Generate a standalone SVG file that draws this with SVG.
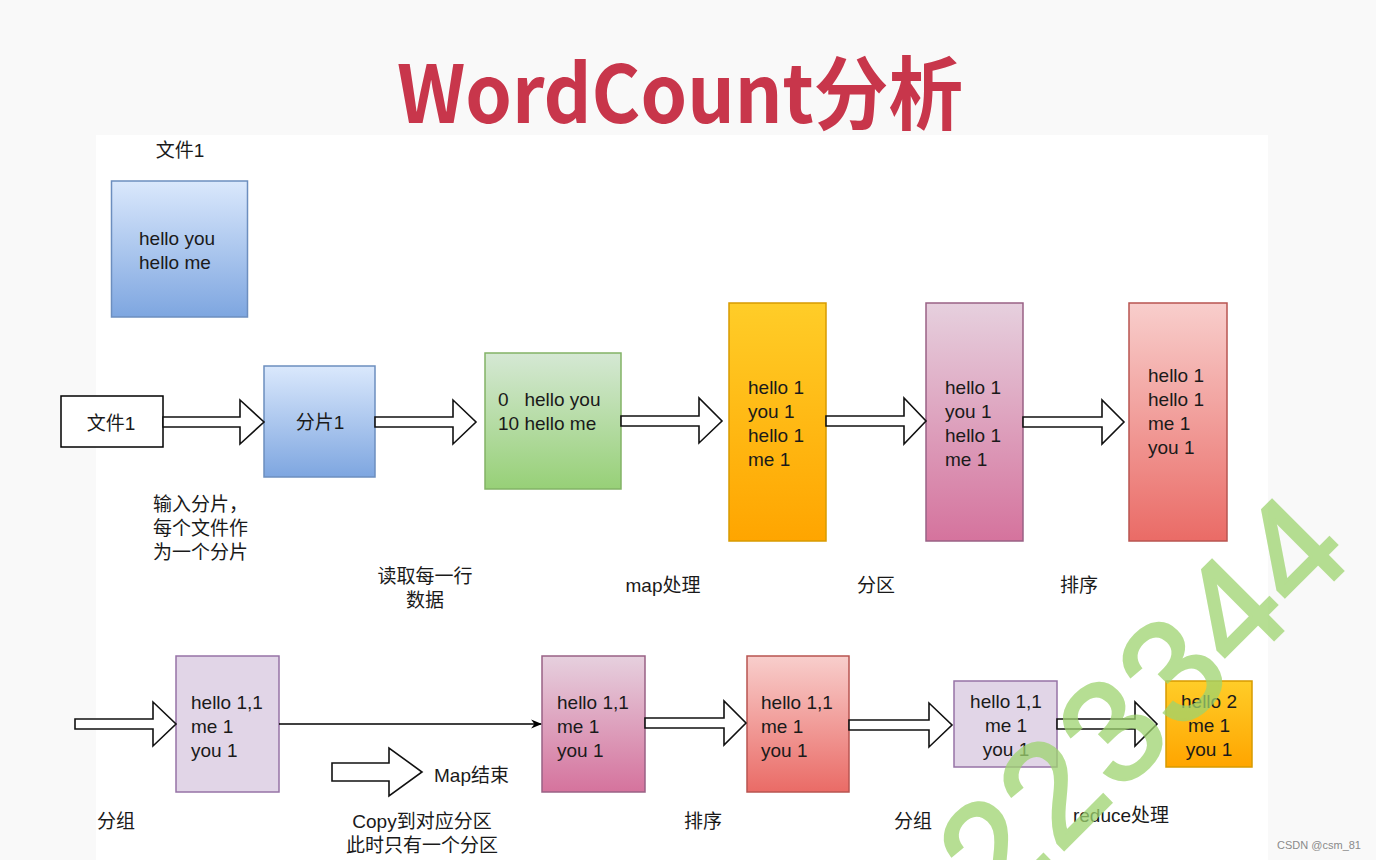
<svg xmlns="http://www.w3.org/2000/svg" width="1376" height="860" viewBox="0 0 1376 860">
<defs>
<linearGradient id="gBlue" x1="0" y1="0" x2="0" y2="1"><stop offset="0" stop-color="#dae8fc"/><stop offset="1" stop-color="#7ea6e0"/></linearGradient>
<linearGradient id="gGreen" x1="0" y1="0" x2="0" y2="1"><stop offset="0" stop-color="#d5e8d4"/><stop offset="1" stop-color="#97d077"/></linearGradient>
<linearGradient id="gOrange" x1="0" y1="0" x2="0" y2="1"><stop offset="0" stop-color="#ffcd28"/><stop offset="1" stop-color="#ffa500"/></linearGradient>
<linearGradient id="gPink" x1="0" y1="0" x2="0" y2="1"><stop offset="0" stop-color="#e6d0de"/><stop offset="1" stop-color="#d5739d"/></linearGradient>
<linearGradient id="gRed" x1="0" y1="0" x2="0" y2="1"><stop offset="0" stop-color="#f8cecc"/><stop offset="1" stop-color="#ea6b66"/></linearGradient>
<marker id="arr" viewBox="0 0 10 10" refX="9" refY="5" markerWidth="11" markerHeight="11" orient="auto" markerUnits="userSpaceOnUse"><path d="M0,1 L10,5 L0,9 L3,5 Z" fill="#000"/></marker>
<style>
.t{font-family:"Liberation Sans","Noto Sans CJK SC",sans-serif;font-size:19px;fill:#1a1a1a}
.blue{fill:url(#gBlue);stroke:#6c8ebf;stroke-width:1.5}
.green{fill:url(#gGreen);stroke:#82b366;stroke-width:1.5}
.orange{fill:url(#gOrange);stroke:#d79b00;stroke-width:1.5}
.pink{fill:url(#gPink);stroke:#996185;stroke-width:1.5}
.red{fill:url(#gRed);stroke:#b85450;stroke-width:1.5}
.lav{fill:#e1d5e7;stroke:#9673a6;stroke-width:1.5}
.plain{fill:#fff;stroke:#000;stroke-width:1.5}
.ha{fill:#fff;stroke:#111;stroke-width:1.6;stroke-linejoin:miter}
.c{text-anchor:middle}
</style>
</defs>
<rect width="1376" height="860" fill="#f9f9f9"/>
<rect x="96" y="135" width="1172" height="725" fill="#fff"/>
<text x="680" y="123" text-anchor="middle" font-family="'Noto Sans CJK SC','Liberation Sans',sans-serif" font-weight="700" font-size="80" fill="#c8364b" textLength="566" lengthAdjust="spacingAndGlyphs">WordCount分析</text>

<g id="file1-top">
<text class="t c" x="180" y="157">文件1</text>
<rect class="blue" x="111.5" y="181" width="136" height="136"/>
<text class="t" x="139" y="245">hello you</text>
<text class="t" x="139" y="269">hello me</text>
</g>

<g id="file1">
<rect class="plain" x="61" y="396" width="102" height="51"/>
<text class="t c" x="111" y="430">文件1</text>
</g>
<g id="split1">
<rect class="blue" x="264" y="366" width="111" height="111"/>
<text class="t c" x="320" y="429">分片1</text>
</g>
<g id="split-label">
<text class="t" x="153" y="511">输入分片，</text>
<text class="t" x="153" y="535">每个文件作</text>
<text class="t" x="153" y="559">为一个分片</text>
</g>
<g id="read">
<rect class="green" x="485" y="353" width="136" height="136"/>
<text class="t" x="498" y="406" xml:space="preserve">0   hello you</text>
<text class="t" x="498" y="430">10 hello me</text>
<text class="t c" x="425" y="583">读取每一行</text>
<text class="t c" x="425" y="607">数据</text>
</g>
<g id="map">
<rect class="orange" x="729" y="303" width="97" height="238"/>
<text class="t" x="748" y="394">hello 1</text>
<text class="t" x="748" y="418">you 1</text>
<text class="t" x="748" y="442">hello 1</text>
<text class="t" x="748" y="466">me 1</text>
<text class="t c" x="663" y="592">map处理</text>
</g>
<g id="partition">
<rect class="pink" x="926" y="303" width="97" height="238"/>
<text class="t" x="945" y="394">hello 1</text>
<text class="t" x="945" y="418">you 1</text>
<text class="t" x="945" y="442">hello 1</text>
<text class="t" x="945" y="466">me 1</text>
<text class="t c" x="876" y="592">分区</text>
</g>
<g id="sort">
<rect class="red" x="1129" y="303" width="98" height="238"/>
<text class="t" x="1148" y="382">hello 1</text>
<text class="t" x="1148" y="406">hello 1</text>
<text class="t" x="1148" y="430">me 1</text>
<text class="t" x="1148" y="454">you 1</text>
<text class="t c" x="1079" y="592">排序</text>
</g>

<g id="group1">
<rect class="lav" x="176" y="656" width="103" height="136"/>
<text class="t" x="191" y="709">hello 1,1</text>
<text class="t" x="191" y="733">me 1</text>
<text class="t" x="191" y="757">you 1</text>
<text class="t c" x="116" y="828">分组</text>
</g>
<g id="copy-label">
<text class="t" x="434" y="782">Map结束</text>
<text class="t c" x="422" y="828">Copy到对应分区</text>
<text class="t c" x="422" y="852">此时只有一个分区</text>
</g>
<g id="reduce-part">
<rect class="pink" x="542" y="656" width="103" height="136"/>
<text class="t" x="557" y="709">hello 1,1</text>
<text class="t" x="557" y="733">me 1</text>
<text class="t" x="557" y="757">you 1</text>
</g>
<g id="reduce-sort">
<rect class="red" x="747" y="656" width="102" height="136"/>
<text class="t" x="761" y="709">hello 1,1</text>
<text class="t" x="761" y="733">me 1</text>
<text class="t" x="761" y="757">you 1</text>
<text class="t c" x="703" y="828">排序</text>
</g>
<g id="reduce-group">
<rect class="lav" x="954" y="681" width="103" height="86"/>
<text class="t c" x="1006" y="708">hello 1,1</text>
<text class="t c" x="1006" y="732">me 1</text>
<text class="t c" x="1006" y="756">you 1</text>
<text class="t c" x="913" y="828">分组</text>
</g>
<g id="reduce">
<rect class="orange" x="1166" y="681" width="86" height="86"/>
<text class="t c" x="1209" y="708">hello 2</text>
<text class="t c" x="1209" y="732">me 1</text>
<text class="t c" x="1209" y="756">you 1</text>
<text class="t c" x="1121" y="822">reduce处理</text>
</g>

<g id="connectors">
<polygon class="ha" points="163,417 240,417 240,400 264,422 240,444 240,427 163,427"/>
<polygon class="ha" points="375,417 453,417 453,400 476,422 453,444 453,427 375,427"/>
<polygon class="ha" points="621,416 699,416 699,398 722,421 699,443 699,426 621,426"/>
<polygon class="ha" points="826,416 904,416 904,398 926,421 904,444 904,426 826,426"/>
<polygon class="ha" points="1023,417 1102,417 1102,400 1124,422 1102,444 1102,427 1023,427"/>
<polygon class="ha" points="75,719 153,719 153,702 176,724 153,746 153,729 75,729"/>
<line x1="279" y1="724" x2="541" y2="724" stroke="#000" stroke-width="1.5" marker-end="url(#arr)"/>
<polygon class="ha" points="332,763 389,763 389,748 422,772 389,796 389,781 332,781"/>
<polygon class="ha" points="645,718 724,718 724,701 746,723 724,745 724,728 645,728"/>
<polygon class="ha" points="849,720 929,720 929,703 952,725 929,747 929,730 849,730"/>
<polygon class="ha" points="1057,719 1135,719 1135,702 1157,724 1135,746 1135,729 1057,729"/>
</g>

<text x="1142" y="698" transform="rotate(-45 1142 698)" dy="52" text-anchor="middle" font-family="'Liberation Sans',sans-serif" font-size="145" letter-spacing="4" fill="#9ed46f" stroke="#9ed46f" stroke-width="3" opacity="0.75">223344</text>
<text x="1361" y="849" text-anchor="end" font-family="'Liberation Sans',sans-serif" font-size="11" fill="#8a8a8a">CSDN @csm_81</text>
</svg>
